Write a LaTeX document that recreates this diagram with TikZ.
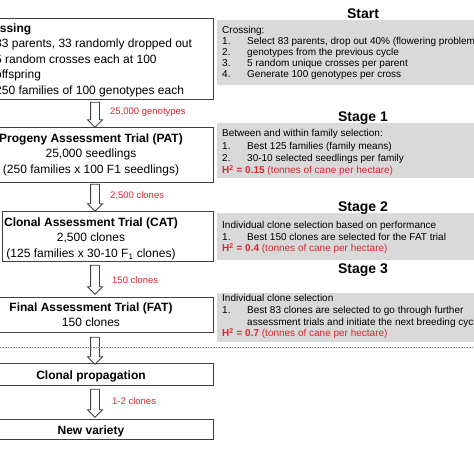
\documentclass[tikz,border=0pt]{standalone}
\usepackage{fontspec}
\setmainfont{Liberation Sans}
\usetikzlibrary{shapes.arrows, positioning}
\definecolor{panelgray}{RGB}{217,217,217}
\definecolor{edgegray}{RGB}{64,64,64}
\definecolor{heritred}{RGB}{214,39,48}
\newcommand{\stageitem}[1]{\makebox[25pt][l]{#1}}
\newcommand{\heritline}[1]{\textcolor{heritred}{\textbf{H\textsuperscript{2} = #1} (tonnes of cane per hectare)}}

\begin{document}
\begin{tikzpicture}[x=1pt, y=-1pt,
    trialbox/.style={draw=edgegray, line width=1pt, anchor=north west, inner sep=0pt},
    trialtext/.style={align=center, inner sep=0pt, font=\fontsize{12}{15.5}\selectfont},
    stagepanel/.style={fill=panelgray, anchor=north west, inner sep=0pt, minimum width=300pt},
    stagetext/.style={align=left, anchor=north west, inner sep=0pt, font=\fontsize{10}{11.7}\selectfont},
    stagetitle/.style={inner sep=0pt, font=\fontsize{14}{16}\selectfont\bfseries},
    blockarrow/.style={single arrow, draw=edgegray, fill=white, line width=0.8pt, shape border rotate=270,
        inner sep=4pt, single arrow head extend=3pt, minimum width=14pt},
    countlabel/.style={text=heritred, inner sep=0pt, anchor=west, font=\fontsize{9.5}{11}\selectfont}]

    \useasboundingbox (0,0) rectangle (474,474);
    \clip (0,0) rectangle (474,474);

    % trial boxes on the left
    \node (cross) [trialbox, minimum width=253pt, minimum height=81pt] at (-40,18) {};
    \node (pat) [trialbox, minimum width=216pt, minimum height=55pt] at (-3,127) {};
    \node (cat) [trialbox, minimum width=211pt, minimum height=50pt] at (2,211) {};
    \node (fat) [trialbox, minimum width=216pt, minimum height=35pt] at (-3,297) {};
    \node (prop) [trialbox, minimum width=216pt, minimum height=22pt] at (-3,363) {};
    \node (variety) [trialbox, minimum width=216pt, minimum height=20pt] at (-3,419) {};

    \node (crosstxt) [trialtext, align=left, anchor=north west] at (-21,23.5)
        {\textbf{Crossing}\\ \hspace*{16pt}83 parents, 33 randomly dropped out\\ \hspace*{16pt}5 random crosses each at 100\\
         \hspace*{16pt}offspring\\ \hspace*{16pt}250 families of 100 genotypes each};
    \node (pattxt) [trialtext] at (91,154.6)
        {\textbf{Progeny Assessment Trial (PAT)}\\ 25,000 seedlings\\ (250 families x 100 F1 seedlings)};
    \node (cattxt) [trialtext] at (91,238.6)
        {\textbf{Clonal Assessment Trial (CAT)}\\ 2,500 clones\\ (125 families x 30-10 F\textsubscript{1} clones)};
    \node (fattxt) [trialtext] at (91,314.5)
        {\textbf{Final Assessment Trial (FAT)}\\ 150 clones};
    \node (proptxt) [trialtext, anchor=base] at (91,379.5) {\textbf{Clonal propagation}};
    \node (varietytxt) [trialtext, anchor=base] at (91,434.5) {\textbf{New variety}};

    % block arrows and counts
    \foreach \n/\y/\len in {1/112.5/25, 2/195.5/27, 3/277.5/29, 4/348.5/27, 5/401/28}
        \node (arr\n) [blockarrow, minimum height=\len pt] at (95,\y) {};
    \node (cnt1) [countlabel, right=15pt of arr1.center] {25,000 genotypes};
    \node (cnt2) [countlabel, right=15pt of arr2.center] {2,500 clones};
    \node (cnt3) [countlabel, right=17pt of arr3.center, yshift=-3pt] {150 clones};
    \node (cnt5) [countlabel, right=17pt of arr5.center] {1-2 clones};

    \draw[densely dotted, edgegray!70, line width=0.6pt] (0,347) -- (474,347);

    % stage panels on the right
    \node (startpanel) [stagepanel, minimum height=65pt] at (217,20) {};
    \node (panel1) [stagepanel, minimum height=55pt] at (217,123) {};
    \node (panel2) [stagepanel, minimum height=47pt] at (217,213) {};
    \node (panel3) [stagepanel, minimum height=49pt] at (217,293) {};

    \node (starttitle) [stagetitle] at (363,14) {Start};
    \node (title1) [stagetitle] at (363,118) {Stage 1};
    \node (title2) [stagetitle] at (363,208) {Stage 2};
    \node (title3) [stagetitle] at (363,270) {Stage 3};

    \node (starttxt) [stagetext, font=\fontsize{10}{11}\selectfont] at (222,26.3)
        {Crossing:\\ \stageitem{1.}Select 83 parents, drop out 40\% (flowering problems-\\
         \stageitem{2.}genotypes from the previous cycle\\ \stageitem{3.}5 random unique crosses per parent\\
         \stageitem{4.}Generate 100 genotypes per cross};
    \node (txt1) [stagetext, font=\fontsize{10}{12.3}\selectfont] at (222,129.3)
        {Between and within family selection:\\ \stageitem{1.}Best 125 families (family means)\\
         \stageitem{2.}30-10 selected seedlings per family\\ \heritline{0.15}};
    \node (txt2) [stagetext, font=\fontsize{10}{11.5}\selectfont] at (222,221.3)
        {Individual clone selection based on performance\\ \stageitem{1.}Best 150 clones are selected for the FAT trial\\
         \heritline{0.4}};
    \node (txt3) [stagetext] at (222,294.3)
        {Individual clone selection\\ \stageitem{1.}Best 83 clones are selected to go through further\\
         \stageitem{}assessment trials and initiate the next breeding cycle\\ \heritline{0.7}};

\end{tikzpicture}
\end{document}
